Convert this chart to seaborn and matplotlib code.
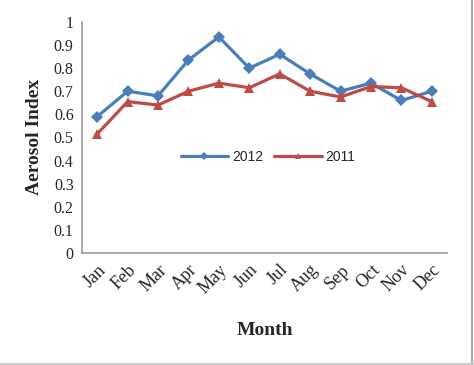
import pandas as pd
import matplotlib
matplotlib.use("Agg")
import matplotlib.pyplot as plt
import seaborn as sns
from matplotlib.lines import Line2D

months = ["Jan", "Feb", "Mar", "Apr", "May", "Jun",
          "Jul", "Aug", "Sep", "Oct", "Nov", "Dec"]
aerosol_2012 = [0.59, 0.70, 0.68, 0.835, 0.935, 0.80,
                0.86, 0.775, 0.70, 0.735, 0.66, 0.70]
aerosol_2011 = [0.515, 0.655, 0.64, 0.70, 0.735, 0.715,
                0.775, 0.70, 0.675, 0.72, 0.715, 0.655]
yticks = [0, 0.1, 0.2, 0.3, 0.4, 0.5, 0.6, 0.7, 0.8, 0.9, 1]
ytick_labels = ["0", "0.1", "0.2", "0.3", "0.4", "0.5",
                "0.6", "0.7", "0.8", "0.9", "1"]

df = pd.DataFrame({
    "Month": months * 2,
    "Aerosol Index": aerosol_2012 + aerosol_2011,
    "Year": ["2012"] * 12 + ["2011"] * 12,
})
df["pos"] = list(range(12)) * 2

sns.set_style("white")
serif = ["Liberation Serif", "DejaVu Serif"]

fig = plt.figure(figsize=(4.74, 3.65), dpi=100)
ax = fig.add_axes([0.173, 0.307, 0.77, 0.633])

sns.lineplot(data=df, x="pos", y="Aerosol Index", hue="Year", style="Year",
             hue_order=["2012", "2011"], style_order=["2012", "2011"],
             palette={"2012": "#4a7ebb", "2011": "#be4b48"},
             markers={"2012": "D", "2011": "^"}, dashes=False,
             linewidth=2.3, markersize=6.5, markeredgewidth=0, ax=ax)

ax.set_xlim(-0.5, 11.5)
ax.set_ylim(0, 1)
ax.set_yticks(yticks)
ax.set_yticklabels(ytick_labels, fontfamily=serif, fontsize=11.5)
ax.set_xticks(range(12))
ax.set_xticklabels(months, rotation=45, ha="right", rotation_mode="anchor",
                   fontfamily=serif, fontsize=13)
ax.tick_params(axis="y", length=0, pad=6)
ax.tick_params(axis="x", length=0, pad=6)
ax.set_xlabel("Month", fontfamily=serif, fontweight="bold", fontsize=14, labelpad=18)
ax.set_ylabel("Aerosol Index", fontfamily=serif, fontweight="bold", fontsize=14, labelpad=8)

for s in ["top", "right"]:
    ax.spines[s].set_visible(False)
for s in ["left", "bottom"]:
    ax.spines[s].set_color("#999999")
    ax.spines[s].set_linewidth(1.2)

leg = ax.legend(loc="center", bbox_to_anchor=(0.51, 0.415), ncol=2, frameon=False,
                handlelength=3.4, columnspacing=0.8, handletextpad=0.3,
                prop={"family": ["Liberation Sans Narrow", "Liberation Sans"], "size": 10})
for h in leg.legend_handles:
    h.set_markersize(4.5)

fig.add_artist(Line2D([0.996, 0.996], [0.0, 1.0], color="#aaaaaa", lw=1.5))
fig.add_artist(Line2D([0.0, 1.0], [0.004, 0.004], color="#cccccc", lw=1.5))

fig.savefig("out.png", dpi=100)
